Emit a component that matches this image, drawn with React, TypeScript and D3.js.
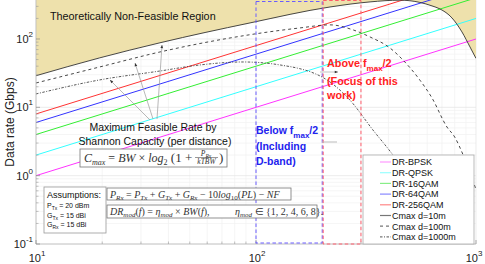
import React from "react";
import * as d3 from "d3";

const xDomain = [10, 1000];
const yDomain = [0.1, 372];
const xTickVals = [10, 100, 1000];
const xTickExp = ["1", "2", "3"];
const yTickVals = [0.1, 1, 10, 100];
const yTickExp = ["-1", "0", "1", "2"];

const drFreq = [10, 1000];
const drBPSK = [1, 100];
const drQPSK = [2, 200];
const dr16QAM = [4, 400];
const dr64QAM = [6, 600];
const dr256QAM = [8, 800];

const cmax10Freq = [10, 19.5, 36.6, 94, 217, 330, 451, 556, 631, 686, 778, 863, 939, 1000];
const cmax10Val = [29, 53, 88, 172, 294, 349, 370, 343, 305, 275, 203, 127, 76.5, 52];
const cmax100Freq = [10, 19.5, 36.6, 76.2, 158, 217, 276, 330, 406, 475, 556, 631, 738, 800, 874, 939, 1000];
const cmax100Val = [22.7, 39, 64.6, 103.5, 145, 161, 136, 107, 74, 46, 25, 13.7, 5.15, 3.68, 2.01, 1.13, 0.62];
const cmax1000Freq = [10, 19.5, 36.6, 55.6, 87.3, 128.6, 210, 267, 340, 419, 556, 723];
const cmax1000Val = [15.7, 25.2, 34, 41.7, 46.1, 41.7, 25.2, 12.8, 4.66, 2.01, 0.52, 0.1];

const belowRegion = [100, 200];
const aboveRegion = [202, 300];

const legendLabels = ["DR-BPSK", "DR-QPSK", "DR-16QAM", "DR-64QAM", "DR-256QAM", "Cmax d=10m", "Cmax d=100m", "Cmax d=1000m"];

const L = 36, R = 476, T = 0, B = 244;

export default function App() {
  const x = d3.scaleLog().domain(xDomain).range([L, R]);
  const y = d3.scaleLog().domain(yDomain).range([B, T]);
  const zip = (fs: number[], vs: number[]) => fs.map((f, i) => ({ f, v: vs[i] }));
  const line = d3
    .line<{ f: number; v: number }>()
    .x((d) => x(d.f))
    .y((d) => y(d.v));
  const curve = d3
    .line<{ f: number; v: number }>()
    .x((d) => x(d.f))
    .y((d) => y(d.v))
    .curve(d3.curveMonotoneX);
  const area = d3
    .area<{ f: number; v: number }>()
    .x((d) => x(d.f))
    .y0(T)
    .y1((d) => y(d.v))
    .curve(d3.curveMonotoneX);

  const drSeries = [
    { vals: drBPSK, color: "#ff33ff", leg: "#ff99ff" },
    { vals: drQPSK, color: "#33ffff", leg: "#99ffff" },
    { vals: dr16QAM, color: "#33ee33", leg: "#88ee88" },
    { vals: dr64QAM, color: "#3333ff", leg: "#8888ff" },
    { vals: dr256QAM, color: "#ff3333", leg: "#ff8888" },
  ];
  const cmaxSeries = [
    { d: zip(cmax10Freq, cmax10Val), dash: "none", color: "#333" },
    { d: zip(cmax100Freq, cmax100Val), dash: "3,3", color: "#333" },
    { d: zip(cmax1000Freq, cmax1000Val), dash: "2.5,1.5,1,1.5", color: "#444" },
  ];

  const minorX: number[] = [];
  for (let e = 1; e < 3; e++) for (let k = 2; k <= 9; k++) minorX.push(k * Math.pow(10, e));
  const minorY: number[] = [];
  for (let e = -1; e < 3; e++) for (let k = 2; k <= 9; k++) {
    const v = k * Math.pow(10, e);
    if (v <= yDomain[1]) minorY.push(v);
  }

  const sans = "'Liberation Sans', Arial, Helvetica, sans-serif";
  const serif = "'Liberation Serif', 'Times New Roman', serif";

  const arrow = (x1: number, y1: number, x2: number, y2: number, color: string) => {
    const ang = Math.atan2(y2 - y1, x2 - x1);
    const s = 3.5;
    const p1 = [x2 - s * Math.cos(ang - 0.4), y2 - s * Math.sin(ang - 0.4)];
    const p2 = [x2 - s * Math.cos(ang + 0.4), y2 - s * Math.sin(ang + 0.4)];
    return (
      <g>
        <line x1={x1} y1={y1} x2={x2} y2={y2} stroke={color} strokeWidth={0.7} />
        <polygon points={`${x2},${y2} ${p1[0]},${p1[1]} ${p2[0]},${p2[1]}`} fill="#333" />
      </g>
    );
  };

  return (
    <svg width={485} height={264} style={{ position: "absolute", left: 0, top: 0, background: "#fff" }}>
      <defs>
        <clipPath id="plotclip">
          <rect x={L} y={T} width={R - L} height={B - T} />
        </clipPath>
      </defs>
      <rect x={0} y={0} width={485} height={264} fill="#fff" />
      {/* grid */}
      <g>
        {minorX.map((v, i) => (
          <line key={"mx" + i} x1={x(v)} x2={x(v)} y1={T} y2={B} stroke="#f1f1f1" strokeWidth={0.7} />
        ))}
        {minorY.map((v, i) => (
          <line key={"my" + i} x1={L} x2={R} y1={y(v)} y2={y(v)} stroke="#f1f1f1" strokeWidth={0.7} />
        ))}
        {xTickVals.map((v, i) => (
          <line key={"gx" + i} x1={x(v)} x2={x(v)} y1={T} y2={B} stroke="#e4e4e4" strokeWidth={0.7} />
        ))}
        {yTickVals.map((v, i) => (
          <line key={"gy" + i} x1={L} x2={R} y1={y(v)} y2={y(v)} stroke="#e4e4e4" strokeWidth={0.7} />
        ))}
      </g>
      <g clipPath="url(#plotclip)">
        <path d={area(zip(cmax10Freq, cmax10Val)) || ""} fill="#eee1ac" />
        {drSeries.map((s, i) => (
          <path key={"dr" + i} d={line(zip(drFreq, s.vals)) || ""} fill="none" stroke={s.color} strokeWidth={1} />
        ))}
        {cmaxSeries.map((s, i) => (
          <path key={"cm" + i} d={curve(s.d) || ""} fill="none" stroke={s.color} strokeWidth={0.9} strokeDasharray={s.dash} />
        ))}
      </g>
      {/* axes */}
      <line x1={L} x2={L} y1={T} y2={B} stroke="#bdbdbd" strokeWidth={0.8} />
      <line x1={L} x2={R} y1={B} y2={B} stroke="#bdbdbd" strokeWidth={0.8} />
      {minorX.map((v, i) => (
        <line key={"tx" + i} x1={x(v)} x2={x(v)} y1={B} y2={B - 2.5} stroke="#999" strokeWidth={0.6} />
      ))}
      {minorY.map((v, i) => (
        <line key={"ty" + i} x1={L} x2={L + 2.5} y1={y(v)} y2={y(v)} stroke="#999" strokeWidth={0.6} />
      ))}
      {xTickVals.map((v, i) => (
        <line key={"Tx" + i} x1={x(v)} x2={x(v)} y1={B} y2={B - 4} stroke="#888" strokeWidth={0.7} />
      ))}
      {yTickVals.map((v, i) => (
        <line key={"Ty" + i} x1={L} x2={L + 4} y1={y(v)} y2={y(v)} stroke="#888" strokeWidth={0.7} />
      ))}
      {xTickVals.map((v, i) => (
        <text key={"xl" + i} x={x(v) + (i === 2 ? -2 : 1)} y={262} fontFamily={sans} fontSize={11} textAnchor="middle" fill="#222">
          10<tspan fontSize={8} dy={-6}>{xTickExp[i]}</tspan>
        </text>
      ))}
      {yTickVals.map((v, i) => (
        <text key={"yl" + i} x={33} y={y(v) + 4} fontFamily={sans} fontSize={11} textAnchor="end" fill="#222">
          10<tspan fontSize={8} dy={-6}>{yTickExp[i]}</tspan>
        </text>
      ))}
      <text transform="translate(14,122) rotate(-90)" fontFamily={sans} fontSize={12} textAnchor="middle" fill="#222">
        Data rate (Gbps)
      </text>

      {/* regions */}
      <rect x={x(belowRegion[0])} y={1.5} width={x(belowRegion[1]) - x(belowRegion[0])} height={241.5} fill="none" stroke="#6a5cff" strokeWidth={1} strokeDasharray="3.5,2.5" />
      <rect x={x(aboveRegion[0])} y={0.5} width={x(aboveRegion[1]) - x(aboveRegion[0])} height={243.5} fill="none" stroke="#ff5a6a" strokeWidth={1} strokeDasharray="3.5,2.5" />

      <text x={50} y={20} fontFamily={sans} fontSize={10.8} fill="#111">Theoretically Non-Feasible Region</text>

      {/* arrows to Cmax curves */}
      {arrow(150, 120, 110, 80, "#999")}
      {arrow(153, 119, 135, 63, "#999")}
      {arrow(157, 119, 162, 45, "#999")}
      {arrow(320, 72, 338, 72, "#aaa")}
      <line x1={322} y1={142} x2={337} y2={142} stroke="#bbb" strokeWidth={1} />

      <text x={153} y={131} fontFamily={sans} fontSize={10.5} textAnchor="middle" fill="#111">Maximum Feasible Rate by</text>
      <text x={155} y={145} fontFamily={sans} fontSize={10.5} textAnchor="middle" fill="#111">Shannon Capacity (per distance)</text>

      {/* Shannon formula box */}
      <rect x={80} y={149} width={147} height={18} fill="#fff" stroke="#777" strokeWidth={0.8} />
      <text x={84} y={162} fontFamily={serif} fontSize={12} fontStyle="italic" fill="#333">
        C<tspan fontSize={8} dy={2.5}>max</tspan>
        <tspan dy={-2.5} fontStyle="normal"> = </tspan>BW<tspan fontStyle="normal"> × </tspan>log<tspan fontSize={8} dy={2.5} fontStyle="normal">2</tspan>
        <tspan dy={-2.5} fontStyle="normal" fontSize={13}> (1 + </tspan>
      </text>
      <text x={206} y={156} fontFamily={serif} fontSize={7.5} fontStyle="italic" textAnchor="middle" fill="#333">
        P<tspan fontSize={5.5} dy={1.5}>Rx</tspan>
      </text>
      <line x1={195} x2={218} y1={157.5} y2={157.5} stroke="#333" strokeWidth={0.5} />
      <text x={206.5} y={164} fontFamily={serif} fontSize={7.5} fontStyle="italic" textAnchor="middle" fill="#333">kTBW</text>
      <text x={219} y={162} fontFamily={serif} fontSize={13} fill="#333">)</text>

      {/* Assumptions box */}
      <rect x={44} y={187} width={62} height={46} fill="#fff" stroke="#999" strokeWidth={0.8} />
      <text x={47} y={198} fontFamily={sans} fontSize={9} fill="#111">Assumptions:</text>
      <text x={47} y={208} fontFamily={sans} fontSize={7} fill="#111">
        P<tspan fontSize={5} dy={2}>Tx</tspan><tspan dy={-2}> = 20 dBm</tspan>
      </text>
      <text x={47} y={218} fontFamily={sans} fontSize={7} fill="#111">
        G<tspan fontSize={5} dy={2}>Tx</tspan><tspan dy={-2}> = 15 dBi</tspan>
      </text>
      <text x={47} y={227} fontFamily={sans} fontSize={7} fill="#111">
        G<tspan fontSize={5} dy={2}>Rx</tspan><tspan dy={-2}> = 15 dBi</tspan>
      </text>

      {/* link budget formula */}
      <rect x={107} y={188} width={184} height={12} fill="#fff" stroke="#777" strokeWidth={0.8} />
      <text x={110} y={197.5} fontFamily={serif} fontSize={10} fontStyle="italic" fill="#333">
        P<tspan fontSize={7} dy={2}>Rx</tspan><tspan dy={-2} fontStyle="normal"> = </tspan>P<tspan fontSize={7} dy={2}>Tx</tspan>
        <tspan dy={-2} fontStyle="normal"> + </tspan>G<tspan fontSize={7} dy={2}>Tx</tspan>
        <tspan dy={-2} fontStyle="normal"> + </tspan>G<tspan fontSize={7} dy={2}>Rx</tspan>
        <tspan dy={-2} fontStyle="normal"> − 10</tspan>log<tspan fontSize={7} dy={2} fontStyle="normal">10</tspan>
        <tspan dy={-2} fontStyle="normal">(</tspan>PL<tspan fontStyle="normal">) − </tspan>NF
      </text>

      {/* DR formula */}
      <rect x={107} y={205} width={210} height={13} fill="#fff" stroke="#777" strokeWidth={0.8} />
      <text x={110} y={214.5} fontFamily={serif} fontSize={10} fontStyle="italic" fill="#333">
        DR<tspan fontSize={7} dy={2}>mod</tspan><tspan dy={-2} fontStyle="normal">(</tspan>f<tspan fontStyle="normal">) = </tspan>η<tspan fontSize={7} dy={2}>mod</tspan>
        <tspan dy={-2} fontStyle="normal"> × </tspan>BW<tspan fontStyle="normal">(</tspan>f<tspan fontStyle="normal">),</tspan>
      </text>
      <text x={235} y={214.5} fontFamily={serif} fontSize={10} fontStyle="italic" fill="#333">
        η<tspan fontSize={7} dy={2}>mod</tspan><tspan dy={-2} fontStyle="normal"> ∈ {"{"}1, 2, 4, 6, 8{"}"}.</tspan>
      </text>

      {/* region labels */}
      <text x={256} y={134} fontFamily={sans} fontSize={10.5} fontWeight="bold" fill="#2222ee">
        Below f<tspan fontSize={8} dy={4}>max</tspan><tspan dy={-4}>/2</tspan>
      </text>
      <text x={256} y={150} fontFamily={sans} fontSize={10.5} fontWeight="bold" fill="#2222ee">(Including</text>
      <text x={256} y={165} fontFamily={sans} fontSize={10.5} fontWeight="bold" fill="#2222ee">D-band)</text>

      <text x={327} y={67} fontFamily={sans} fontSize={10.8} fontWeight="bold" fill="#ff2222">
        Above f<tspan fontSize={8} dy={4}>max</tspan><tspan dy={-4}>/2</tspan>
      </text>
      <text x={327} y={85} fontFamily={sans} fontSize={10.8} fontWeight="bold" fill="#ff2222">(Focus of this</text>
      <text x={327} y={99} fontFamily={sans} fontSize={10.8} fontWeight="bold" fill="#ff2222">work)</text>

      {/* legend */}
      <rect x={363} y={155} width={111} height={89} fill="#fff" stroke="#aaa" strokeWidth={0.8} />
      {legendLabels.map((lab, i) => {
        const cy = 162 + i * 10.7;
        const isDR = i < 5;
        const stroke = isDR ? drSeries[i].leg : "#777";
        const dash = isDR ? "none" : cmaxSeries[i - 5].dash;
        return (
          <g key={"lg" + i}>
            <line x1={380} x2={391} y1={cy} y2={cy} stroke={stroke} strokeWidth={1.2} strokeDasharray={dash === "none" ? undefined : dash} />
            <text x={392} y={cy + 3.3} fontFamily={sans} fontSize={9} fill="#111">{lab}</text>
          </g>
        );
      })}
    </svg>
  );
}
